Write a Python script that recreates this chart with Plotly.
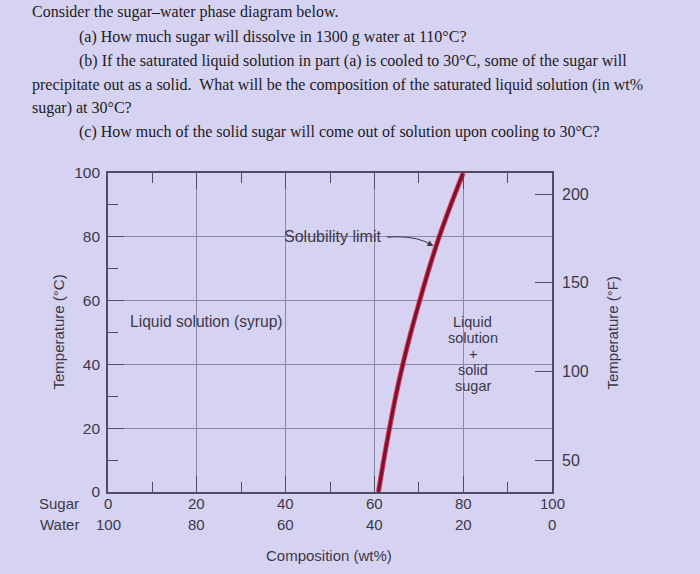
import plotly.graph_objects as go

# ---- data ----
temp_c = [0, 10, 20, 30, 40, 50, 60, 70, 80, 90, 100]
sugar_wt = [60.9, 62.1, 63.4, 64.8, 66.4, 68.2, 70.2, 72.3, 74.6, 77.2, 80.0]

sugar_ticks = [0, 20, 40, 60, 80, 100]
water_ticks = [100, 80, 60, 40, 20, 0]
temp_f_ticks = [50, 100, 150, 200]

question_lines = [
    "Consider the sugar\u2013water phase diagram below.",
    "(a) How much sugar will dissolve in 1300 g water at 110\u00b0C?",
    "(b) If the saturated liquid solution in part (a) is cooled to 30\u00b0C, some of the sugar will",
    "precipitate out as a solid.  What will be the composition of the saturated liquid solution (in wt%",
    "sugar) at 30\u00b0C?",
    "(c) How much of the solid sugar will come out of solution upon cooling to 30\u00b0C?",
]
question_indent = [0, 1, 1, 0, 0, 1]

two_phase_lines = ["Liquid", "solution", "+", "solid", "sugar"]

# ---- layout geometry (pixels) ----
W, H = 700, 574
L, R, T, B = 108, 552, 173, 492
BG = "#d6d2f1"
TXT = "#3b3948"
AX = "#4f4a68"
GRID = "#8a86a8"
SANS = "Liberation Sans"


def px_x(px):
    return (px - L) / (R - L)


def px_y(py):
    return (B - py) / (B - T)


fig = go.Figure()

# solubility curve (light red halo + dark core)
fig.add_trace(go.Scatter(x=sugar_wt, y=temp_c, mode="lines",
                         line=dict(color="#d83a55", width=5, shape="spline", smoothing=0.8),
                         hoverinfo="skip", showlegend=False))
fig.add_trace(go.Scatter(x=sugar_wt, y=temp_c, mode="lines",
                         line=dict(color="#7d1030", width=3, shape="spline", smoothing=0.8),
                         hoverinfo="skip", showlegend=False))
# placeholder to activate Fahrenheit axis
fig.add_trace(go.Scatter(x=[None], y=[None], yaxis="y2", showlegend=False,
                         hoverinfo="skip"))

annotations = []

# question text
line_y = [12, 37, 61, 85, 108, 132]
for txt, ind, py in zip(question_lines, question_indent, line_y):
    annotations.append(dict(text=txt, xref="paper", yref="paper",
                            x=px_x(77 if ind else 30), y=px_y(py),
                            xanchor="left", yanchor="middle", showarrow=False,
                            font=dict(family="Liberation Serif", size=16, color="#1c1b24")))

# Sugar / Water composition rows
annotations.append(dict(text="Sugar", xref="paper", yref="paper", x=px_x(81), y=px_y(503),
                        xanchor="right", yanchor="middle", showarrow=False,
                        font=dict(family=SANS, size=15, color=TXT)))
annotations.append(dict(text="Water", xref="paper", yref="paper", x=px_x(81), y=px_y(524),
                        xanchor="right", yanchor="middle", showarrow=False,
                        font=dict(family=SANS, size=15, color=TXT)))
for s, w in zip(sugar_ticks, water_ticks):
    annotations.append(dict(text=str(s), xref="x", yref="paper", x=s, y=px_y(503),
                            xanchor="center", yanchor="middle", showarrow=False,
                            font=dict(family=SANS, size=15, color=TXT)))
    annotations.append(dict(text=str(w), xref="x", yref="paper", x=s, y=px_y(524),
                            xanchor="center", yanchor="middle", showarrow=False,
                            font=dict(family=SANS, size=15, color=TXT)))

annotations.append(dict(text="Composition (wt%)", xref="paper", yref="paper",
                        x=px_x(329), y=px_y(555), xanchor="center", yanchor="middle",
                        showarrow=False, font=dict(family=SANS, size=15, color=TXT)))
annotations.append(dict(text="Temperature (\u00b0C)", xref="paper", yref="paper",
                        x=px_x(58), y=0.5, textangle=-90, xanchor="center", yanchor="middle",
                        showarrow=False, font=dict(family=SANS, size=15, color=TXT)))
annotations.append(dict(text="Temperature (\u00b0F)", xref="paper", yref="paper",
                        x=px_x(612), y=0.5, textangle=-90, xanchor="center", yanchor="middle",
                        showarrow=False, font=dict(family=SANS, size=15, color=TXT)))

# region labels
annotations.append(dict(text="Liquid solution (syrup)", xref="x", yref="y", x=22.1, y=53.3,
                        xanchor="center", yanchor="middle", showarrow=False,
                        font=dict(family=SANS, size=15.6, color=TXT)))
for i, t in enumerate(two_phase_lines):
    annotations.append(dict(text=t, xref="x", yref="y", x=82.2, y=43.3,
                            yshift=-(i - 2) * 16, xanchor="center", yanchor="middle",
                            showarrow=False, font=dict(family=SANS, size=14.5, color=TXT)))

annotations.append(dict(text="Solubility limit", xref="x", yref="y", x=50.6, y=80.1,
                        xanchor="center", yanchor="middle", showarrow=False,
                        font=dict(family=SANS, size=16, color=TXT)))
# arrowhead at end of curved leader
annotations.append(dict(text="", xref="x", yref="y", x=73.3, y=77.1,
                        axref="x", ayref="y", ax=72.2, ay=77.9, showarrow=True,
                        arrowhead=2, arrowsize=1.1, arrowwidth=1.1, arrowcolor="#3a3a44"))

shapes = [dict(type="path", xref="x", yref="y",
               path="M 62.9,79.9 Q 69.5,80.5 72.9,77.4",
               line=dict(color="#3a3a44", width=1.1))]

fig.update_layout(
    width=W, height=H,
    margin=dict(l=L, r=W - R, t=T, b=H - B, pad=0),
    paper_bgcolor=BG, plot_bgcolor=BG,
    showlegend=False,
    annotations=annotations,
    shapes=shapes,
    xaxis=dict(range=[0, 100], dtick=20, showticklabels=False,
               ticks="inside", ticklen=16, tickwidth=1.3, tickcolor=AX,
               showgrid=True, gridcolor=GRID, gridwidth=1,
               showline=True, linecolor=AX, linewidth=1.6, mirror="ticks",
               zeroline=False,
               minor=dict(dtick=10, ticks="inside", ticklen=10, tickwidth=1.2,
                          tickcolor=AX, showgrid=False)),
    yaxis=dict(range=[0, 100], dtick=20, showticklabels=True,
               ticks="inside", ticklen=16, tickwidth=1.3, tickcolor=AX,
               tickfont=dict(family=SANS, size=15.5, color=TXT),
               ticklabelstandoff=3,
               showgrid=True, gridcolor=GRID, gridwidth=1,
               showline=True, linecolor=AX, linewidth=1.6, mirror=True,
               zeroline=False,
               minor=dict(dtick=10, ticks="inside", ticklen=10, tickwidth=1.2,
                          tickcolor=AX, showgrid=False)),
    yaxis2=dict(overlaying="y", side="right", range=[32, 212],
                tickvals=temp_f_ticks, ticks="inside", ticklen=17, tickwidth=1.3,
                tickcolor=AX, tickfont=dict(family=SANS, size=16, color=TXT),
                ticklabelstandoff=9,
                showgrid=False, showline=False, zeroline=False),
)

fig.write_html("out.html")
